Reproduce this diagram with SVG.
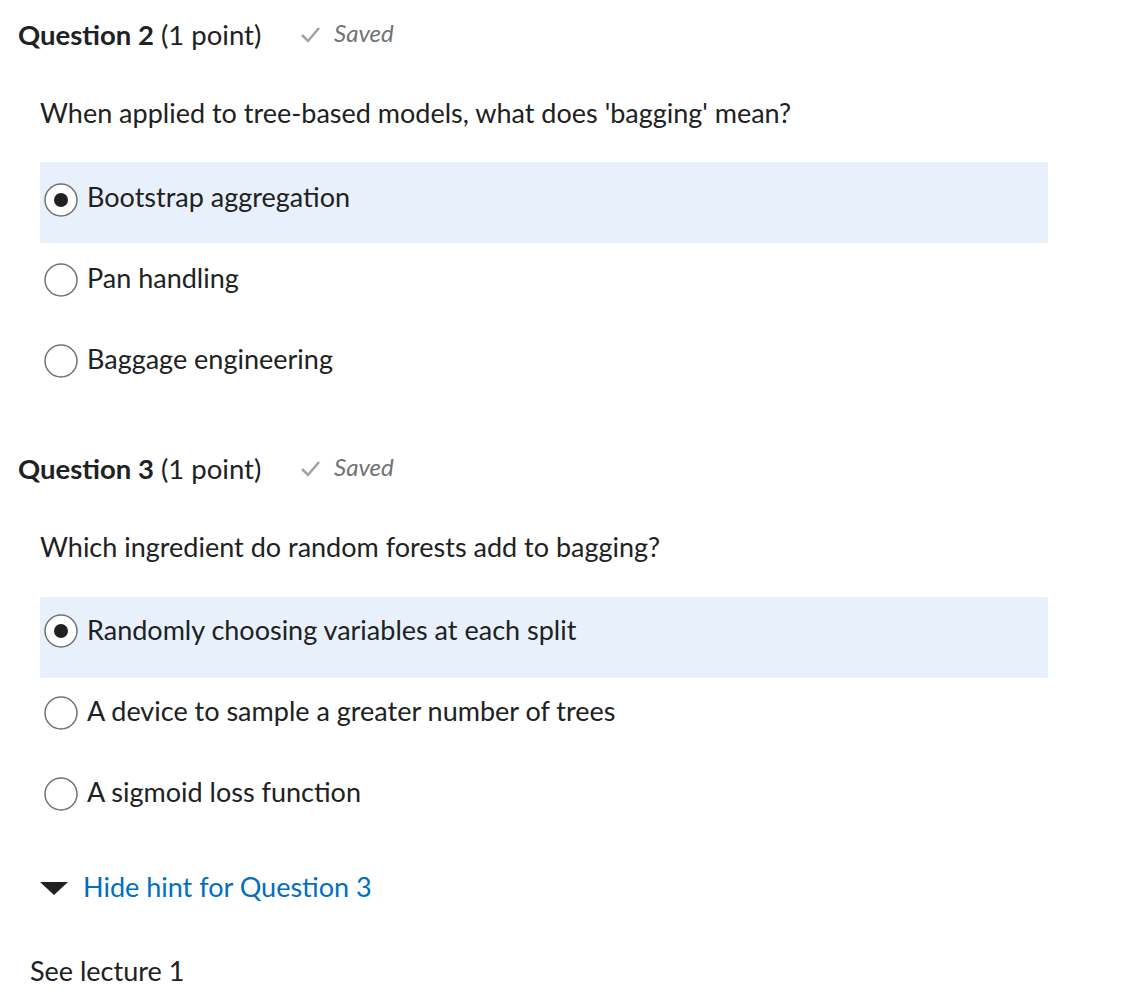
<svg xmlns="http://www.w3.org/2000/svg" width="1124" height="1000" viewBox="0 0 1124 1000">
<style>
text{font-family:Lato,"Liberation Sans",sans-serif;fill:#202122}
.h{font-size:27.5px}
.b{font-weight:bold}
.s{font-size:24px;font-style:italic;fill:#6e7376}
.t{font-size:27px}
.r{fill:#fff;stroke:#6e7376;stroke-width:1.5}
.hl{fill:#e8f1fb}
.ck{fill:none;stroke:#9ea3a6;stroke-width:2.5}
</style>
<rect width="1124" height="1000" fill="#fff"/>
<text x="18" y="45" class="h"><tspan class="b">Question 2</tspan> (1 point)</text>
<path class="ck" d="M302 35 l6 6 l11 -13"/>
<text x="334" y="42" class="s">Saved</text>
<text x="40" y="123" class="t">When applied to tree-based models, what does 'bagging' mean?</text>
<rect class="hl" x="40" y="162" width="1008" height="81"/>
<circle class="r" cx="61" cy="200" r="16"/><circle cx="61" cy="200" r="7" fill="#202122"/>
<text x="87" y="207" class="t">Bootstrap aggregation</text>
<circle class="r" cx="61" cy="280" r="16"/>
<text x="87" y="288" class="t">Pan handling</text>
<circle class="r" cx="61" cy="361" r="16"/>
<text x="87" y="369" class="t">Baggage engineering</text>
<text x="18" y="479" class="h"><tspan class="b">Question 3</tspan> (1 point)</text>
<path class="ck" d="M302 469 l6 6 l11 -13"/>
<text x="334" y="476" class="s">Saved</text>
<text x="40" y="557" class="t">Which ingredient do random forests add to bagging?</text>
<rect class="hl" x="40" y="597" width="1008" height="81"/>
<circle class="r" cx="61" cy="631" r="16"/><circle cx="61" cy="631" r="7" fill="#202122"/>
<text x="87" y="640" class="t">Randomly choosing variables at each split</text>
<circle class="r" cx="61" cy="713" r="16"/>
<text x="87" y="721" class="t">A device to sample a greater number of trees</text>
<circle class="r" cx="61" cy="794" r="16"/>
<text x="87" y="802" class="t">A sigmoid loss function</text>
<path d="M40 882 h28 l-14 13 z" fill="#202122"/>
<text x="83" y="897" class="t" style="fill:#006fbf">Hide hint for Question 3</text>
<text x="30" y="981" class="t">See lecture 1</text>
</svg>
